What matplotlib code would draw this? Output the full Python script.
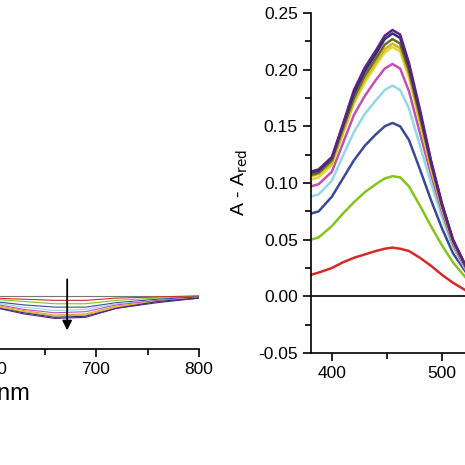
import matplotlib.pyplot as plt
from matplotlib.ticker import MultipleLocator

plt.rcParams['font.family'] = ['Liberation Sans', 'DejaVu Sans']

# right panel: difference spectra
wl = [381, 388, 400, 410, 420, 430, 440, 448, 455, 462, 470, 480, 490, 500, 510, 522]
spectra = [
    [0.019, 0.021, 0.025, 0.030, 0.034, 0.037, 0.040, 0.042, 0.043, 0.042, 0.040, 0.034, 0.027, 0.019, 0.012, 0.005],
    [0.050, 0.052, 0.062, 0.073, 0.083, 0.092, 0.099, 0.104, 0.106, 0.105, 0.097, 0.080, 0.062, 0.045, 0.030, 0.016],
    [0.073, 0.075, 0.088, 0.104, 0.120, 0.133, 0.143, 0.150, 0.153, 0.150, 0.138, 0.112, 0.085, 0.060, 0.038, 0.021],
    [0.088, 0.090, 0.102, 0.124, 0.145, 0.161, 0.173, 0.182, 0.186, 0.182, 0.166, 0.133, 0.100, 0.070, 0.043, 0.023],
    [0.097, 0.099, 0.110, 0.135, 0.160, 0.177, 0.191, 0.201, 0.205, 0.201, 0.181, 0.144, 0.108, 0.075, 0.046, 0.024],
    [0.103, 0.105, 0.116, 0.143, 0.170, 0.189, 0.204, 0.215, 0.220, 0.216, 0.193, 0.153, 0.113, 0.078, 0.048, 0.025],
    [0.106, 0.108, 0.118, 0.145, 0.172, 0.192, 0.207, 0.218, 0.223, 0.219, 0.196, 0.156, 0.115, 0.079, 0.048, 0.025],
    [0.107, 0.109, 0.120, 0.148, 0.175, 0.195, 0.210, 0.222, 0.227, 0.223, 0.199, 0.159, 0.117, 0.080, 0.049, 0.025],
    [0.109, 0.111, 0.122, 0.151, 0.179, 0.199, 0.214, 0.227, 0.232, 0.228, 0.203, 0.162, 0.119, 0.081, 0.050, 0.026],
    [0.110, 0.112, 0.123, 0.152, 0.182, 0.202, 0.217, 0.230, 0.235, 0.231, 0.206, 0.165, 0.120, 0.082, 0.050, 0.026],
]
colors = ['#d42a2a', '#84c41e', '#3a4a94', '#92d8e6', '#c44fb4',
          '#e6d82a', '#c8b82a', '#6e6a22', '#2e3278', '#5c2282']

# left panel: spectra in the 600-800 nm region
wl_left = [560, 600, 630, 660, 690, 720, 760, 800]
left_spectra = [
    [0.0, 0.0, 0.0, 0.0, 0.0, 0.0, 0.0, 0.0],
    [0.0, -0.002, -0.003, -0.004, -0.004, -0.002, -0.001, 0.0],
    [0.0, -0.003, -0.005, -0.007, -0.007, -0.004, -0.002, -0.001],
    [0.0, -0.005, -0.008, -0.010, -0.010, -0.006, -0.003, -0.001],
    [0.0, -0.006, -0.010, -0.013, -0.012, -0.007, -0.004, -0.002],
    [0.0, -0.007, -0.012, -0.015, -0.014, -0.008, -0.004, -0.002],
    [0.0, -0.008, -0.013, -0.017, -0.016, -0.009, -0.005, -0.002],
    [0.0, -0.009, -0.014, -0.018, -0.017, -0.010, -0.005, -0.002],
    [0.0, -0.010, -0.015, -0.019, -0.018, -0.011, -0.005, -0.002],
    [0.0, -0.010, -0.016, -0.020, -0.019, -0.011, -0.006, -0.002],
]
left_colors = ['#777777', '#d42a2a', '#84c41e', '#3a4a94', '#92d8e6',
               '#c44fb4', '#e6a030', '#c8b82a', '#2e3278', '#5c2282']

fig = plt.figure(figsize=(4.65, 4.65), dpi=100)

axl = fig.add_axes([-316 / 465, 1 - 349 / 465, 515 / 465, (349 - 13) / 465])
for ys, c in zip(left_spectra, left_colors):
    axl.plot(wl_left, ys, color=c, lw=0.8)
axl.set_xlim(300, 800)
axl.set_ylim(-0.047, 0.25)
for s in ['top', 'right', 'left']:
    axl.spines[s].set_visible(False)
axl.spines['bottom'].set_linewidth(1.2)
axl.set_yticks([])
axl.xaxis.set_major_locator(MultipleLocator(100))
axl.xaxis.set_minor_locator(MultipleLocator(50))
axl.tick_params(axis='x', which='major', length=6, width=1.2, labelsize=12.5, direction='out')
axl.tick_params(axis='x', which='minor', length=4, width=1.2, direction='out')
axl.set_xlabel('Wavelength / nm', fontsize=17)
axl.annotate('', xy=(672, -0.033), xytext=(672, 0.017),
             arrowprops=dict(arrowstyle='-|>', color='black', lw=1.3, mutation_scale=14))

axr = fig.add_axes([311 / 465, 1 - 353 / 465, 197 / 465, (353 - 13) / 465])
for ys, c in zip(spectra, colors):
    axr.plot(wl, ys, color=c, lw=1.8)
axr.axhline(0, color='black', lw=1.2)
axr.set_xlim(381, 560)
axr.set_ylim(-0.05, 0.25)
for s in ['top', 'right']:
    axr.spines[s].set_visible(False)
for s in ['left', 'bottom']:
    axr.spines[s].set_linewidth(1.2)
axr.xaxis.set_major_locator(MultipleLocator(100))
axr.xaxis.set_minor_locator(MultipleLocator(50))
axr.yaxis.set_minor_locator(MultipleLocator(0.025))
axr.set_yticks([-0.05, 0, 0.05, 0.1, 0.15, 0.2, 0.25])
axr.set_yticklabels(['-0.05', '0.00', '0.05', '0.10', '0.15', '0.20', '0.25'])
axr.tick_params(which='major', length=6, width=1.2, labelsize=12.5, direction='out')
axr.tick_params(which='minor', length=4, width=1.2, direction='out')
axr.set_ylabel('A - A$_{\\mathrm{red}}$', fontsize=14, labelpad=6)

fig.savefig('out.png', dpi=100)
